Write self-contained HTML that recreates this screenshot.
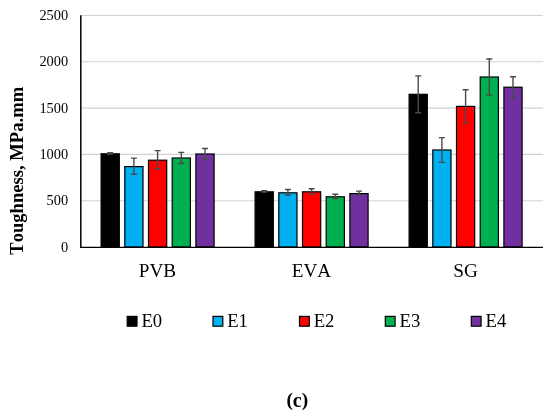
<!DOCTYPE html>
<html><head><meta charset="utf-8"><title>Toughness chart (c)</title>
<style>
html,body{margin:0;padding:0;background:#fff;}
body{width:550px;height:417px;overflow:hidden;}
svg{display:block;}
text{font-family:"Liberation Serif","Times New Roman",serif;fill:#000;font-kerning:none;}
</style></head><body>
<svg width="550" height="417" viewBox="0 0 550 417">
<rect x="0" y="0" width="550" height="417" fill="#ffffff"/>

<line x1="81.0" y1="200.70" x2="543.0" y2="200.70" stroke="#D2D2D2" stroke-width="1.1"/>
<line x1="81.0" y1="154.40" x2="543.0" y2="154.40" stroke="#D2D2D2" stroke-width="1.1"/>
<line x1="81.0" y1="108.10" x2="543.0" y2="108.10" stroke="#D2D2D2" stroke-width="1.1"/>
<line x1="81.0" y1="61.80" x2="543.0" y2="61.80" stroke="#D2D2D2" stroke-width="1.1"/>
<line x1="81.0" y1="15.50" x2="543.0" y2="15.50" stroke="#D2D2D2" stroke-width="1.1"/>
<rect x="101.10" y="153.80" width="18.20" height="93.20" fill="#000000" stroke="#000" stroke-width="1.2"/>
<rect x="124.80" y="166.60" width="18.20" height="80.40" fill="#00B0F0" stroke="#000" stroke-width="1.2"/>
<rect x="148.50" y="160.20" width="18.20" height="86.80" fill="#FF0000" stroke="#000" stroke-width="1.2"/>
<rect x="172.20" y="158.00" width="18.20" height="89.00" fill="#00B050" stroke="#000" stroke-width="1.2"/>
<rect x="195.90" y="154.00" width="18.20" height="93.00" fill="#7030A0" stroke="#000" stroke-width="1.2"/>
<path d="M110.20 152.70V154.10M107.20 152.70h6M107.20 154.10h6" stroke="#4a4a4a" stroke-width="1.4" fill="none"/>
<path d="M133.90 158.15V174.25M130.90 158.15h6M130.90 174.25h6" stroke="#4a4a4a" stroke-width="1.4" fill="none"/>
<path d="M157.60 150.65V168.95M154.60 150.65h6M154.60 168.95h6" stroke="#4a4a4a" stroke-width="1.4" fill="none"/>
<path d="M181.30 152.35V163.45M178.30 152.35h6M178.30 163.45h6" stroke="#4a4a4a" stroke-width="1.4" fill="none"/>
<path d="M205.00 148.45V159.35M202.00 148.45h6M202.00 159.35h6" stroke="#4a4a4a" stroke-width="1.4" fill="none"/>
<rect x="255.10" y="191.80" width="18.20" height="55.20" fill="#000000" stroke="#000" stroke-width="1.2"/>
<rect x="278.80" y="192.80" width="18.20" height="54.20" fill="#00B0F0" stroke="#000" stroke-width="1.2"/>
<rect x="302.50" y="191.80" width="18.20" height="55.20" fill="#FF0000" stroke="#000" stroke-width="1.2"/>
<rect x="326.20" y="196.80" width="18.20" height="50.20" fill="#00B050" stroke="#000" stroke-width="1.2"/>
<rect x="349.90" y="193.60" width="18.20" height="53.40" fill="#7030A0" stroke="#000" stroke-width="1.2"/>
<path d="M264.20 190.70V192.10M261.20 190.70h6M261.20 192.10h6" stroke="#4a4a4a" stroke-width="1.4" fill="none"/>
<path d="M287.90 189.50V195.30M284.90 189.50h6M284.90 195.30h6" stroke="#4a4a4a" stroke-width="1.4" fill="none"/>
<path d="M311.60 188.70V194.10M308.60 188.70h6M308.60 194.10h6" stroke="#4a4a4a" stroke-width="1.4" fill="none"/>
<path d="M335.30 194.30V198.50M332.30 194.30h6M332.30 198.50h6" stroke="#4a4a4a" stroke-width="1.4" fill="none"/>
<path d="M359.00 191.10V195.30M356.00 191.10h6M356.00 195.30h6" stroke="#4a4a4a" stroke-width="1.4" fill="none"/>
<rect x="409.10" y="94.30" width="18.20" height="152.70" fill="#000000" stroke="#000" stroke-width="1.2"/>
<rect x="432.80" y="150.00" width="18.20" height="97.00" fill="#00B0F0" stroke="#000" stroke-width="1.2"/>
<rect x="456.50" y="106.40" width="18.20" height="140.60" fill="#FF0000" stroke="#000" stroke-width="1.2"/>
<rect x="480.20" y="77.00" width="18.20" height="170.00" fill="#00B050" stroke="#000" stroke-width="1.2"/>
<rect x="503.90" y="87.20" width="18.20" height="159.80" fill="#7030A0" stroke="#000" stroke-width="1.2"/>
<path d="M418.20 75.90V112.70M415.20 75.90h6M415.20 112.70h6" stroke="#4a4a4a" stroke-width="1.4" fill="none"/>
<path d="M441.90 137.60V162.40M438.90 137.60h6M438.90 162.40h6" stroke="#4a4a4a" stroke-width="1.4" fill="none"/>
<path d="M465.60 89.70V123.10M462.60 89.70h6M462.60 123.10h6" stroke="#4a4a4a" stroke-width="1.4" fill="none"/>
<path d="M489.30 59.00V95.00M486.30 59.00h6M486.30 95.00h6" stroke="#4a4a4a" stroke-width="1.4" fill="none"/>
<path d="M513.00 76.70V97.70M510.00 76.70h6M510.00 97.70h6" stroke="#4a4a4a" stroke-width="1.4" fill="none"/>
<line x1="80.8" y1="15.3" x2="80.8" y2="247.7" stroke="#000" stroke-width="1.5"/>
<line x1="80.1" y1="247.4" x2="543.0" y2="247.4" stroke="#000" stroke-width="1.2"/>
<text x="68.2" y="251.90" font-size="14.4" text-anchor="end">0</text>
<text x="68.2" y="205.46" font-size="14.4" text-anchor="end">500</text>
<text x="68.2" y="159.02" font-size="14.4" text-anchor="end">1000</text>
<text x="68.2" y="112.58" font-size="14.4" text-anchor="end">1500</text>
<text x="68.2" y="66.14" font-size="14.4" text-anchor="end">2000</text>
<text x="68.2" y="19.70" font-size="14.4" text-anchor="end">2500</text>
<text transform="translate(22.8,170.8) rotate(-90)" font-size="18.6" font-weight="bold" text-anchor="middle">Toughness, MPa.mm</text>
<text x="157.50" y="276.8" font-size="19.2" text-anchor="middle">PVB</text>
<text x="311.50" y="276.8" font-size="19.2" text-anchor="middle">EVA</text>
<text x="465.50" y="276.8" font-size="19.2" text-anchor="middle">SG</text>
<rect x="127.20" y="316.4" width="9.8" height="9.8" fill="#000000" stroke="#000" stroke-width="1.2"/>
<text x="141.40" y="327" font-size="18.67">E0</text>
<rect x="213.00" y="316.4" width="9.8" height="9.8" fill="#00B0F0" stroke="#000" stroke-width="1.2"/>
<text x="227.20" y="327" font-size="18.67">E1</text>
<rect x="299.50" y="316.4" width="9.8" height="9.8" fill="#FF0000" stroke="#000" stroke-width="1.2"/>
<text x="313.70" y="327" font-size="18.67">E2</text>
<rect x="385.30" y="316.4" width="9.8" height="9.8" fill="#00B050" stroke="#000" stroke-width="1.2"/>
<text x="399.50" y="327" font-size="18.67">E3</text>
<rect x="471.30" y="316.4" width="9.8" height="9.8" fill="#7030A0" stroke="#000" stroke-width="1.2"/>
<text x="485.50" y="327" font-size="18.67">E4</text>
<text x="297.3" y="405.6" font-size="19.3" font-weight="bold" text-anchor="middle">(<tspan dy="1.2" font-size="20">c</tspan><tspan dy="-1.2">)</tspan></text>
</svg>
</body></html>
